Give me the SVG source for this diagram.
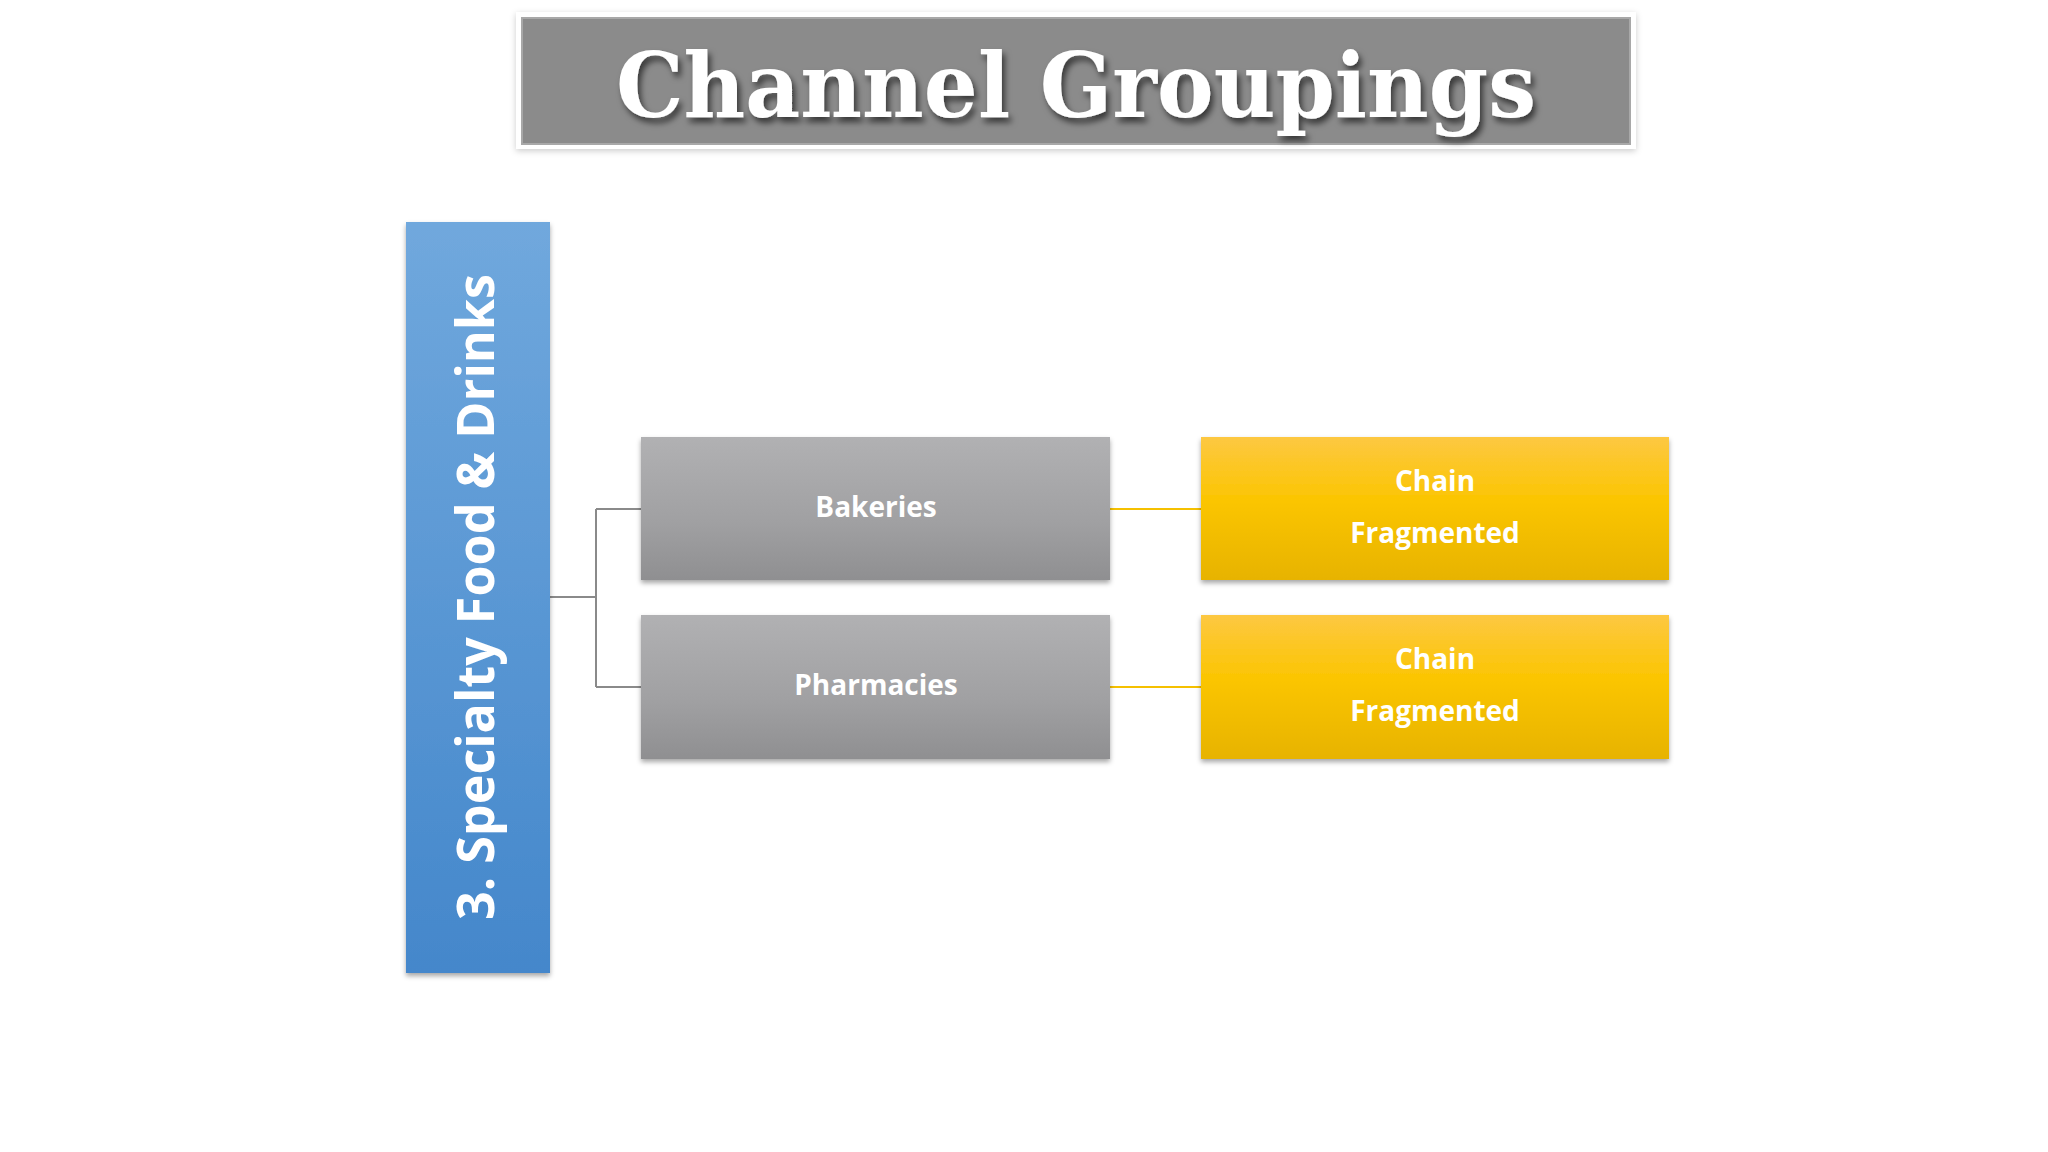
<svg xmlns="http://www.w3.org/2000/svg" width="2048" height="1152" viewBox="0 0 2048 1152">
<defs>
<linearGradient id="gBlue" x1="0" y1="0" x2="0" y2="1"><stop offset="0" stop-color="#70a8dd"/><stop offset="1" stop-color="#4487cb"/></linearGradient>
<linearGradient id="gGrey" x1="0" y1="0" x2="0" y2="1"><stop offset="0" stop-color="#b1b1b3"/><stop offset="0.6" stop-color="#a0a0a2"/><stop offset="1" stop-color="#8f8f91"/></linearGradient>
<linearGradient id="gYel" x1="0" y1="0" x2="0" y2="1"><stop offset="0" stop-color="#fdc842"/><stop offset="0.45" stop-color="#fbc500"/><stop offset="1" stop-color="#e7b300"/></linearGradient>
<filter id="sh" x="-5%" y="-5%" width="110%" height="115%"><feDropShadow dx="0" dy="3" stdDeviation="2.5" flood-color="#000" flood-opacity="0.35"/></filter>
<filter id="tsh" x="-5%" y="-20%" width="110%" height="150%"><feDropShadow dx="3" dy="5" stdDeviation="3" flood-color="#000" flood-opacity="0.6"/></filter>
<filter id="fsh" x="-5%" y="-10%" width="110%" height="130%"><feDropShadow dx="0" dy="2" stdDeviation="3" flood-color="#000" flood-opacity="0.2"/></filter>
</defs>
<style>
.lbl{font-family:"Open Sans","Liberation Sans",sans-serif;font-weight:bold;fill:#fff;text-anchor:middle}
.box{font-size:28px}
</style>
<rect width="2048" height="1152" fill="#fff"/>
<g id="title">
<rect x="516" y="12" width="1120" height="137" fill="#fff" filter="url(#fsh)"/>
<rect x="522" y="18" width="1108" height="126" fill="#8b8b8b" stroke="#a8a8a8" stroke-width="2"/>
<text x="1076" y="117" font-family="'DejaVu Serif','Liberation Serif',serif" font-weight="bold" font-size="90" fill="#fff" text-anchor="middle" textLength="920" lengthAdjust="spacingAndGlyphs" filter="url(#tsh)">Channel Groupings</text>
</g>
<g id="connectors" fill="none">
<path d="M550 597 H596 M596 509 V687 M596 509 H641 M596 687 H641" stroke="#8a8a8a" stroke-width="2"/>
<path d="M1110 509 H1201 M1110 687 H1201" stroke="#f5c000" stroke-width="2"/>
</g>
<g id="root">
<rect x="406" y="222" width="144" height="751" fill="url(#gBlue)" filter="url(#sh)"/>
<text class="lbl" transform="translate(494 597) rotate(-90)" font-size="52" textLength="646" lengthAdjust="spacingAndGlyphs">3. Specialty Food &amp; Drinks</text>
</g>
<g id="bakeries">
<rect x="641" y="437" width="469" height="143" fill="url(#gGrey)" filter="url(#sh)"/>
<text class="lbl box" x="876" y="517">Bakeries</text>
</g>
<g id="pharmacies">
<rect x="641" y="615" width="469" height="144" fill="url(#gGrey)" filter="url(#sh)"/>
<text class="lbl box" x="876" y="695">Pharmacies</text>
</g>
<g id="bakeries-types">
<rect x="1201" y="437" width="468" height="143" fill="url(#gYel)" filter="url(#sh)"/>
<text class="lbl box" x="1435" y="491">Chain</text>
<text class="lbl box" x="1435" y="543">Fragmented</text>
</g>
<g id="pharmacies-types">
<rect x="1201" y="615" width="468" height="144" fill="url(#gYel)" filter="url(#sh)"/>
<text class="lbl box" x="1435" y="669">Chain</text>
<text class="lbl box" x="1435" y="721">Fragmented</text>
</g>
</svg>
